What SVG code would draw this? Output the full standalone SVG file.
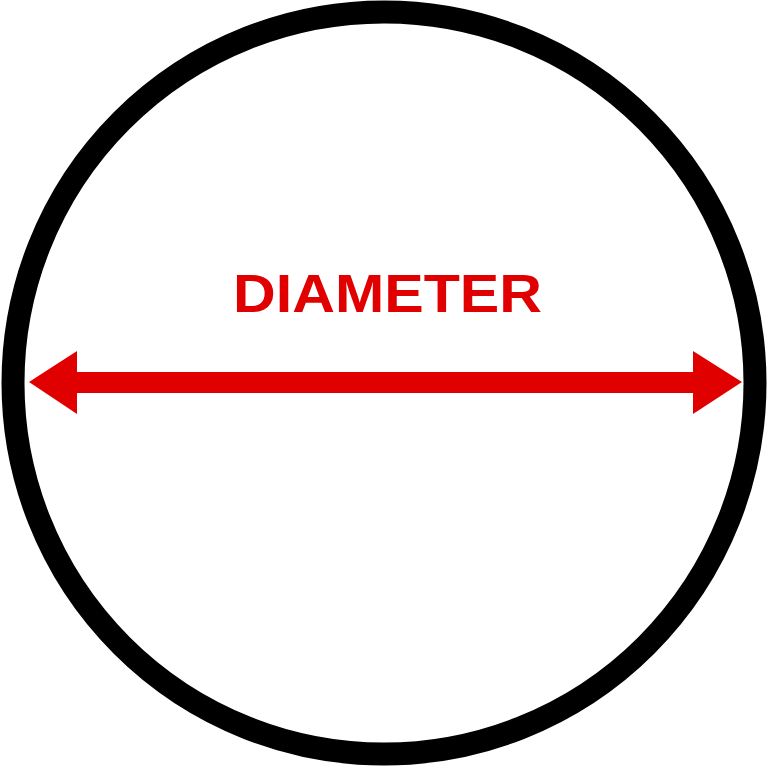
<svg xmlns="http://www.w3.org/2000/svg" width="768" height="768" viewBox="0 0 768 768">
<style>
.ring{fill:none;stroke:#000;stroke-width:23}
.red{fill:#e10000}
.lbl{font-family:"Liberation Sans",Arial,sans-serif;font-weight:bold;font-size:53px}
</style>
<rect width="768" height="768" fill="#fff"/>
<g id="circle"><circle class="ring" cx="384" cy="383" r="371"/></g>
<g id="connectors">
<polygon id="diameter-arrow" class="red" points="29,382 77,351 77,372 693,372 693,351 742,382 693,414 693,393 77,393 77,414"/>
</g>
<g id="label"><text class="lbl red" x="233" y="312" textLength="309" lengthAdjust="spacingAndGlyphs">DIAMETER</text></g>
</svg>
